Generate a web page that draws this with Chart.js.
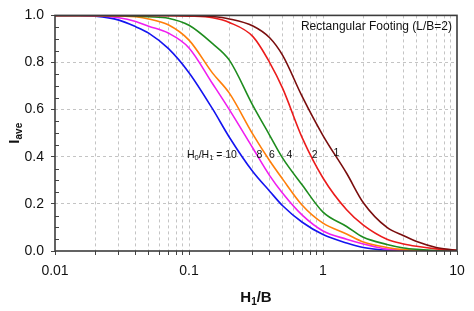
<!DOCTYPE html>
<html><head><meta charset="utf-8">
<script src="https://cdn.jsdelivr.net/npm/chart.js@4/dist/chart.umd.min.js"></script>
<style>html,body{margin:0;padding:0;background:#fff}#wrap{width:474px;height:311px;position:relative}</style>
</head><body><div id="wrap"><canvas id="c" width="474" height="311"></canvas></div>
<script>
// ---- data ----
const seriesNames = ['10', '8', '6', '4', '2', '1'];   // H0/H1
const hOverB = [0.01, 0.015, 0.02, 0.03, 0.04, 0.05, 0.07, 0.1, 0.15, 0.2, 0.3, 0.4, 0.5, 0.7, 1, 1.5, 2, 3, 4, 5, 7, 10];
const iave10 = [1.0, 1.0, 0.997, 0.98, 0.952, 0.925, 0.86, 0.757, 0.603, 0.483, 0.336, 0.254, 0.192, 0.122, 0.07, 0.034, 0.015, 0.003, 0.001, 0, 0, 0];
const iave8  = [1.0, 1.0, 0.998, 0.99, 0.974, 0.954, 0.925, 0.862, 0.71, 0.6, 0.436, 0.32, 0.245, 0.152, 0.085, 0.05, 0.03, 0.008, 0.003, 0.001, 0, 0];
const iave6  = [1.0, 1.0, 1.0, 0.998, 0.994, 0.985, 0.96, 0.895, 0.755, 0.67, 0.495, 0.383, 0.305, 0.194, 0.118, 0.072, 0.038, 0.015, 0.006, 0.003, 0.001, 0];
const iave4  = [1.0, 1.0, 1.0, 0.999, 0.997, 0.994, 0.988, 0.958, 0.88, 0.81, 0.617, 0.491, 0.394, 0.28, 0.165, 0.104, 0.058, 0.028, 0.013, 0.007, 0.002, 0.001];
const iave2  = [1.0, 1.0, 1.0, 1.0, 1.0, 1.0, 0.999, 0.997, 0.99, 0.97, 0.91, 0.8, 0.69, 0.48, 0.31, 0.175, 0.11, 0.05, 0.03, 0.02, 0.009, 0.003];
const iave1  = [1.0, 1.0, 1.0, 1.0, 1.0, 1.0, 1.0, 0.999, 0.995, 0.985, 0.955, 0.905, 0.83, 0.655, 0.49, 0.33, 0.205, 0.1, 0.065, 0.04, 0.015, 0.003];
const xTickValues = [0.01,0.02,0.03,0.04,0.05,0.06,0.07,0.08,0.09,0.1,0.2,0.3,0.4,0.5,0.6,0.7,0.8,0.9,1,2,3,4,5,6,7,8,9,10];
const xTickLabels = [0.01, 0.1, 1, 10];
const yTickLabels = [0, 0.2, 0.4, 0.6, 0.8, 1.0];

// ---- presentation ----
const allSeries = [iave10, iave8, iave6, iave4, iave2, iave1];
const colors = ['#1414f0', '#f01ef0', '#ff7f0a', '#1e8c1e', '#eb1c1c', '#7a0e0e'];
const FONT = '"Liberation Sans", Arial, Helvetica, sans-serif';
const near = (a, b) => Math.abs(a - b) < 1e-9 * Math.max(1, Math.abs(b));
const isYMajor = v => yTickLabels.some(t => Math.abs(t - v) < 1e-6);
const isXLabel = v => xTickLabels.some(t => near(t, v));

const datasets = allSeries.map((s, i) => ({
  label: seriesNames[i],
  data: hOverB.map((x, j) => ({x: x, y: s[j]})),
  borderColor: colors[i],
  backgroundColor: colors[i],
  borderWidth: 1.6,
  pointRadius: 0,
  cubicInterpolationMode: 'monotone',
  fill: false,
  order: allSeries.length - i
}));

// curve labels anchored in data coordinates
const curveLabels = [
  {parts: [{t: 'H'}, {t: '0', sub: true}, {t: '/H'}, {t: '1', sub: true}, {t: ' = 10'}], x: 0.228, y: 0.41, align: 'right'},
  {parts: [{t: '8'}], x: 0.336, y: 0.41, align: 'center'},
  {parts: [{t: '6'}], x: 0.416, y: 0.41, align: 'center'},
  {parts: [{t: '4'}], x: 0.562, y: 0.41, align: 'center'},
  {parts: [{t: '2'}], x: 0.865, y: 0.41, align: 'center'},
  {parts: [{t: '1'}], x: 1.26, y: 0.42, align: 'center'}
];

function drawRich(ctx, parts, x, y, size, bold, align, subSize, subDrop) {
  const w = bold ? 'bold ' : '';
  let total = 0;
  parts.forEach(p => { ctx.font = w + (p.sub ? subSize : size) + 'px ' + FONT; p.w = ctx.measureText(p.t).width; total += p.w; });
  let cx = align === 'right' ? x - total : align === 'center' ? x - total / 2 : x;
  ctx.textAlign = 'left';
  ctx.textBaseline = 'alphabetic';
  parts.forEach(p => {
    ctx.font = w + (p.sub ? subSize : size) + 'px ' + FONT;
    ctx.fillText(p.t, cx, y + (p.sub ? subDrop : 0));
    cx += p.w;
  });
}

const decor = {
  id: 'decor',
  afterDatasetsDraw(chart) {
    const {ctx, chartArea: a, scales: {x, y}} = chart;
    ctx.save();
    // minor inner ticks on left axis
    ctx.strokeStyle = '#444';
    ctx.lineWidth = 1;
    for (let k = 1; k < 20; k++) {
      const v = k * 0.05;
      if (isYMajor(v)) continue;
      const py = Math.round(y.getPixelForValue(v)) + 0.5;
      ctx.beginPath(); ctx.moveTo(a.left, py); ctx.lineTo(a.left + 4, py); ctx.stroke();
    }
    // frame
    ctx.strokeStyle = '#3c3c3c';
    ctx.lineWidth = 1.6;
    ctx.strokeRect(a.left, a.top, a.right - a.left, a.bottom - a.top);
    // text
    ctx.fillStyle = '#111';
    ctx.font = '12px ' + FONT;
    ctx.textAlign = 'right';
    ctx.textBaseline = 'alphabetic';
    ctx.fillText('Rectangular Footing (L/B=2)', a.right - 5, a.top + 15);
    curveLabels.forEach(l => {
      drawRich(ctx, l.parts, x.getPixelForValue(l.x), y.getPixelForValue(l.y) + 4, 10.5, false, l.align, 7.5, 2);
    });
    // axis titles
    drawRich(ctx, [{t: 'H'}, {t: '1', sub: true}, {t: '/B'}], (a.left + a.right) / 2, 302, 15, true, 'center', 10, 3);
    ctx.save();
    ctx.translate(19, (a.top + a.bottom) / 2);
    ctx.rotate(-Math.PI / 2);
    drawRich(ctx, [{t: 'I'}, {t: 'ave', sub: true}], 0, 0, 15, true, 'center', 10, 3);
    ctx.restore();
    ctx.restore();
  }
};

new Chart(document.getElementById('c'), {
  type: 'line',
  data: {datasets},
  plugins: [decor],
  options: {
    responsive: false,
    animation: false,
    devicePixelRatio: 1,
    layout: {padding: {left: 0, right: 17, top: 11, bottom: 0}},
    plugins: {legend: {display: false}, tooltip: {enabled: false}},
    scales: {
      x: {
        type: 'logarithmic', min: 0.01, max: 10,
        afterFit(s) { s.height = 60; },
        afterBuildTicks(s) { s.ticks = xTickValues.map(v => ({value: v})); },
        ticks: {autoSkip: false, maxRotation: 0, padding: 8, color: '#111',
          font: {family: FONT, size: 14},
          callback: v => isXLabel(v) ? String(xTickLabels.find(t => near(t, v))) : ''},
        grid: {color: c => (c.tick && c.tick.value > 0.0100001 && c.tick.value < 9.9999) ? '#c4c4c4' : 'rgba(0,0,0,0)',
          tickColor: '#444', tickLength: 4, lineWidth: 1},
        border: {display: false, dash: [3, 3]}
      },
      y: {
        type: 'linear', min: 0, max: 1,
        afterFit(s) { s.width = 55; },
        afterBuildTicks(s) { s.ticks = yTickLabels.map(v => ({value: v})); },
        ticks: {autoSkip: false, padding: 7, color: '#111', font: {family: FONT, size: 14},
          callback: v => v.toFixed(1)},
        grid: {color: c => (c.tick && c.tick.value > 0.001 && c.tick.value < 0.999) ? '#c4c4c4' : 'rgba(0,0,0,0)',
          tickColor: '#444', tickLength: 4, lineWidth: 1},
        border: {display: false, dash: [3, 3]}
      }
    }
  }
});
</script></body></html>
